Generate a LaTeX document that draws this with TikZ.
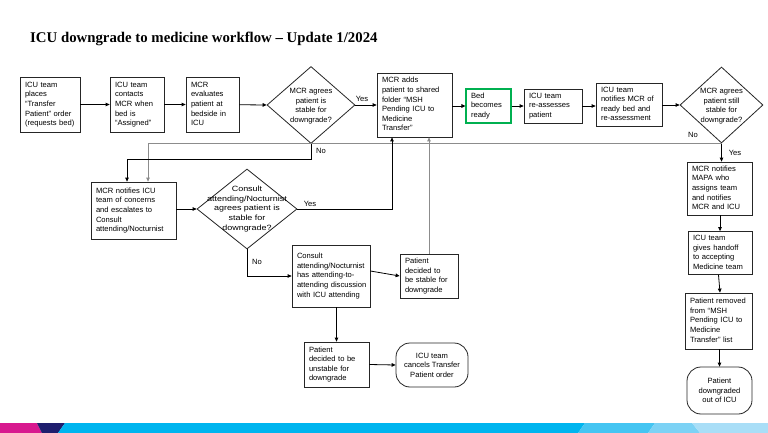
\documentclass[tikz,border=0pt]{standalone}
\usepackage{fontspec}
\setmainfont{Liberation Sans}
\newfontfamily\titlefont{Liberation Serif}
\newfontfamily\widefont[FakeStretch=1.18]{Liberation Sans}
\usetikzlibrary{shapes.geometric,arrows.meta}
\definecolor{bedgreen}{HTML}{00B050}
\definecolor{linegray}{HTML}{8C8C8C}
\definecolor{boxline}{HTML}{262626}
\definecolor{stripmag}{HTML}{D8198F}
\definecolor{stripnavy}{HTML}{1F1E6E}
\definecolor{stripcyan}{HTML}{00B5EF}
\definecolor{stripl1}{HTML}{45C5F2}
\definecolor{stripl2}{HTML}{7CD2F5}
\definecolor{stripl3}{HTML}{A9DEF7}
\newcommand\boxlines[1]{\begin{tabular}{@{}l@{}}#1\end{tabular}}
\begin{document}
\begin{tikzpicture}[x=1pt,y=-1pt,
  txt/.style={font=\fontsize{7.6}{9.6}\selectfont},
  proc/.style={txt, draw=boxline, line width=0.8pt, align=left, inner xsep=5pt, inner ysep=0pt},
  dia/.style={draw=boxline, line width=0.8pt, shape=diamond, inner sep=0pt},
  dtext/.style={txt, align=center, inner sep=0pt},
  term/.style={txt, draw=boxline, line width=0.8pt, rounded corners=14pt, align=center, inner sep=0pt},
  arr/.style={-{Triangle[length=4pt,width=3.6pt]}, line width=0.8pt, draw=black},
  lbl/.style={txt, inner sep=0pt},
]
\useasboundingbox (0,0) rectangle (768,433);
\fill[white] (0,0) rectangle (768,433);

% title
\node[anchor=west, inner sep=0pt, font=\titlefont\bfseries\fontsize{14.8}{18}\selectfont] (title) at (30,38.5) {ICU downgrade to medicine workflow – Update 1/2024};

% top row
\node[proc, text width=50, minimum height=55] (n1) at (50,104.5) {\boxlines{ICU team\\places\\“Transfer\\Patient” order\\(requests bed)}};
\node[proc, text width=44, minimum height=55] (n2) at (137,104.5) {\boxlines{ICU team\\contacts\\MCR when\\bed is\\“Assigned”}};
\node[proc, text width=43, minimum height=55] (n3) at (212.5,104.5) {\boxlines{MCR\\evaluates\\patient at\\bedside in\\ICU}};
\node[dia, minimum width=88, minimum height=77] (d1) at (311,105) {};
\node[dtext] (d1t) at (311,106) {MCR agrees\\patient is\\stable for\\downgrade?};
\node[proc, text width=65, minimum height=64] (n4) at (414.5,105) {\boxlines{MCR adds\\patient to shared\\folder “MSH\\Pending ICU to\\Medicine\\Transfer”}};
\node[proc, draw=bedgreen, line width=1.1pt, text width=35, minimum height=34] (bed) at (488.5,106) {\boxlines{Bed\\becomes\\ready}};
\node[proc, text width=48, minimum height=34] (n5) at (553,106) {\boxlines{ICU team\\re-assesses\\patient}};
\node[proc, text width=56, minimum height=43] (n6) at (629,104.5) {\boxlines{ICU team\\notifies MCR of\\ready bed and\\re-assessment}};
\node[dia, minimum width=83, minimum height=76] (d2) at (721.5,105) {};
\node[dtext] (d2t) at (721.5,106) {MCR agrees\\patient still\\stable for\\downgrade?};

% right column
\node[proc, text width=55, minimum height=53] (n7) at (719.5,188.5) {\boxlines{MCR notifies\\MAPA who\\assigns team\\and notifies\\MCR and ICU}};
\node[proc, text width=54, minimum height=43] (n8) at (720,253) {\boxlines{ICU team\\gives handoff\\to accepting\\Medicine team}};
\node[proc, text width=57, minimum height=56] (n9) at (718.5,321) {\boxlines{Patient removed\\from “MSH\\Pending ICU to\\Medicine\\Transfer” list}};
\node[term, minimum width=65, minimum height=47] (t2) at (719.5,390.5) {Patient\\downgraded\\out of ICU};

% middle
\node[proc, text width=75, minimum height=57] (n10) at (133.5,210.5) {\boxlines{MCR notifies ICU\\team of concerns\\and escalates to\\Consult\\attending/Nocturnist}};
\node[dia, minimum width=100, minimum height=80] (d3) at (247,209) {};
\node[dtext, font=\widefont\fontsize{7.6}{9.8}\selectfont] (d3t) at (247,209) {Consult\\attending/Nocturnist\\agrees patient is\\stable for\\downgrade?};
\node[proc, text width=68, minimum height=62] (n11) at (331,276) {\boxlines{Consult\\attending/Nocturnist\\has attending-to-\\attending discussion\\with ICU attending}};
\node[proc, text width=48, minimum height=44] (n12) at (429,276) {\boxlines{Patient\\decided to\\be stable for\\downgrade}};
\node[proc, text width=55, minimum height=45] (n13) at (336.5,364.5) {\boxlines{Patient\\decided to be\\unstable for\\downgrade}};
\node[term, minimum width=72, minimum height=44] (t1) at (432,365) {ICU team\\cancels Transfer\\Patient order};

% connectors
\draw[arr] (n1) -- (n2);
\draw[arr] (n2) -- (n3);
\draw[arr] (n3) -- (d1.west);
\draw[arr] (d1.east) -- (n4.west |- d1.east);
\draw[arr] (n4.east |- bed.west) -- (bed.west);
\draw[arr] (bed) -- (n5);
\draw[arr] (n5.east) -- (n6.west |- n5.east);
\draw[arr] (n6.east |- d2.west) -- (d2.west);
\draw[arr] (d2.south) -- (n7.north -| d2.south);
\draw[arr] (n7.south -| n8.north) -- (n8.north);
\draw[arr] (n8.south -| n9.north) -- (n9.north -| n8.south);
\draw[arr] (n9.south -| t2.north) -- (t2.north);
\draw[arr, draw=linegray] (d2.south) -| ([xshift=14.5pt]n10.north);
\draw[arr] (d1.south) -- ++(0,15) -| ([xshift=-6.5pt]n10.north);
\draw[arr] (n10.east |- d3.west) -- (d3.west);
\draw[arr] (d3.east) -| ([xshift=-22.5pt]n4.south);
\draw[arr] (d3.south) |- (n11.west);
\draw[arr] ([yshift=5pt]n11.east) -- (n12.west);
\draw[arr, draw=linegray] (n12.north) -- (n12.north |- n4.south);
\draw[arr] (n11.south -| n13.north) -- (n13.north);
\draw[arr] (n13.east) -- (t1.west);

% labels
\node[lbl] (l1) at (362,99) {Yes};
\node[lbl] (l2) at (321,151) {No};
\node[lbl] (l3) at (693,135) {No};
\node[lbl] (l4) at (735,153) {Yes};
\node[lbl] (l5) at (310,204) {Yes};
\node[lbl] (l6) at (257,262) {No};

% bottom strip
\fill[stripmag] (0,423) -- (37,423) -- (42,433) -- (0,433) -- cycle;
\fill[stripnavy] (37,423) -- (65,423) -- (58,433) -- (42,433) -- cycle;
\fill[stripcyan] (65,423) -- (585,423) -- (578,433) -- (58,433) -- cycle;
\fill[stripl1] (585,423) -- (655,423) -- (648,433) -- (578,433) -- cycle;
\fill[stripl2] (655,423) -- (692,423) -- (700,433) -- (648,433) -- cycle;
\fill[stripl3] (692,423) -- (768,423) -- (768,433) -- (700,433) -- cycle;
\end{tikzpicture}
\end{document}
